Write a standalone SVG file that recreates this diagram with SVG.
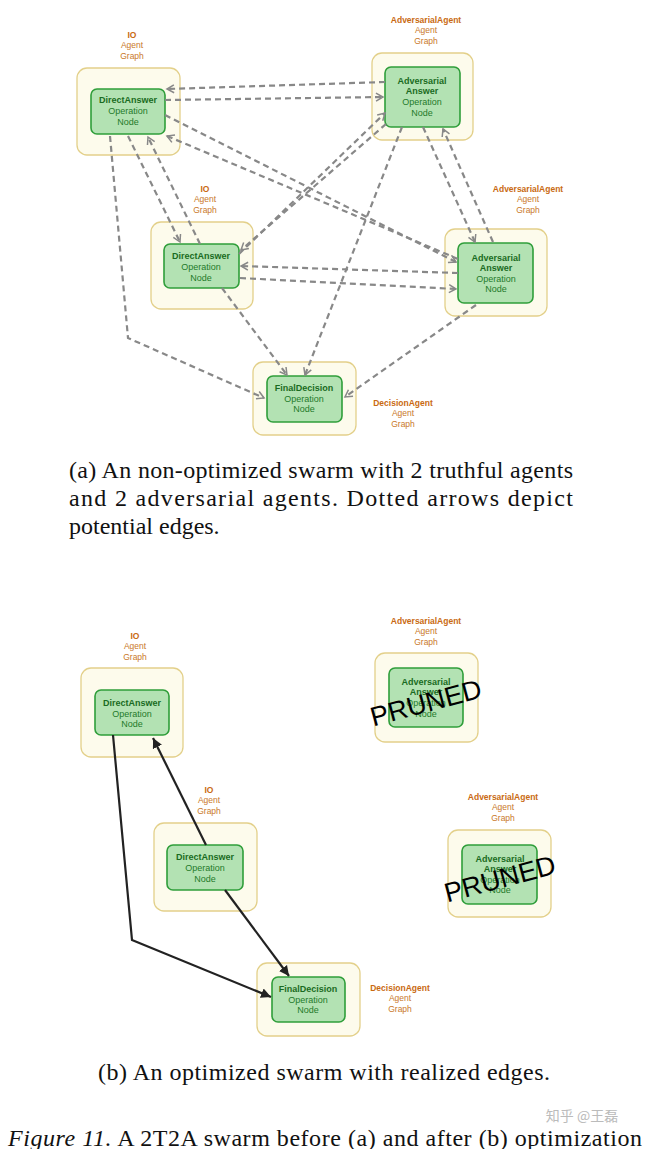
<svg xmlns="http://www.w3.org/2000/svg" width="649" height="1149" viewBox="0 0 649 1149">
<style>
.outer{fill:#fdfbec;stroke:#e3d08a;stroke-width:1.3}
.inner{fill:#b3e2b3;stroke:#2f9e3a;stroke-width:1.6}
.nt{font-family:"Liberation Sans",Arial,sans-serif;font-size:9px;text-anchor:middle;fill:#1f7a2a}
.nb{font-weight:bold;fill:#1a6b22}
.lt{font-family:"Liberation Sans",Arial,sans-serif;font-size:8.5px;text-anchor:middle;fill:#c9782a}
.lb{font-weight:bold;fill:#c96a12}
.d{fill:none;stroke:#888;stroke-width:2.2;stroke-dasharray:6 4;marker-end:url(#ad)}
.s{fill:none;stroke:#222;stroke-width:2.2;marker-end:url(#as)}
.cap{font-family:"Liberation Serif","Times New Roman",serif;font-size:24px;fill:#111}
.pr{font-family:"Liberation Sans",Arial,sans-serif;font-size:27px;fill:#000}
</style>
<defs>
<marker id="ad" markerWidth="10" markerHeight="10" refX="8" refY="5" orient="auto" markerUnits="userSpaceOnUse"><path d="M1,1 L8,5 L1,9" fill="none" stroke="#888" stroke-width="1.5"/></marker>
<marker id="as" markerWidth="12" markerHeight="12" refX="10" refY="6" orient="auto" markerUnits="userSpaceOnUse"><path d="M0,1 L10,6 L0,11 Z" fill="#222"/></marker>
</defs>
<rect width="649" height="1149" fill="#fff"/>

<g id="a-io1">
<rect class="outer" x="77" y="68" width="103" height="87" rx="10"/>
<rect class="inner" x="91" y="89" width="74" height="45" rx="6"/>
<text class="nt nb" x="128" y="103">DirectAnswer</text><text class="nt" x="128" y="114">Operation</text><text class="nt" x="128" y="125">Node</text>
<text class="lt lb" x="132" y="38">IO</text><text class="lt" x="132" y="48">Agent</text><text class="lt" x="132" y="59">Graph</text>
</g>
<g id="a-adv1">
<rect class="outer" x="372" y="53" width="101" height="87" rx="10"/>
<rect class="inner" x="385" y="67" width="75" height="60" rx="6"/>
<text class="nt nb" x="422" y="84">Adversarial</text><text class="nt nb" x="422" y="94">Answer</text><text class="nt" x="422" y="105">Operation</text><text class="nt" x="422" y="116">Node</text>
<text class="lt lb" x="426" y="23">AdversarialAgent</text><text class="lt" x="426" y="33">Agent</text><text class="lt" x="426" y="44">Graph</text>
</g>
<g id="a-io2">
<rect class="outer" x="151" y="222" width="102" height="87" rx="10"/>
<rect class="inner" x="164" y="244" width="75" height="44" rx="6"/>
<text class="nt nb" x="201" y="259">DirectAnswer</text><text class="nt" x="201" y="270">Operation</text><text class="nt" x="201" y="281">Node</text>
<text class="lt lb" x="205" y="192">IO</text><text class="lt" x="205" y="202">Agent</text><text class="lt" x="205" y="213">Graph</text>
</g>
<g id="a-adv2">
<rect class="outer" x="445" y="229" width="102" height="87" rx="10"/>
<rect class="inner" x="458" y="243" width="75" height="60" rx="6"/>
<text class="nt nb" x="496" y="261">Adversarial</text><text class="nt nb" x="496" y="271">Answer</text><text class="nt" x="496" y="282">Operation</text><text class="nt" x="496" y="292">Node</text>
<text class="lt lb" x="528" y="192">AdversarialAgent</text><text class="lt" x="528" y="202">Agent</text><text class="lt" x="528" y="213">Graph</text>
</g>
<g id="a-final">
<rect class="outer" x="253" y="362" width="103" height="73" rx="10"/>
<rect class="inner" x="267" y="376" width="75" height="46" rx="6"/>
<text class="nt nb" x="304" y="391">FinalDecision</text><text class="nt" x="304" y="402">Operation</text><text class="nt" x="304" y="412">Node</text>
<text class="lt lb" x="403" y="406">DecisionAgent</text><text class="lt" x="403" y="416">Agent</text><text class="lt" x="403" y="427">Graph</text>
</g>

<g id="connectors-a">
<path class="d" d="M385,82 L167,89"/>
<path class="d" d="M165,100 L383,97"/>
<path class="d" d="M165,115 L456,262"/>
<path class="d" d="M458,259 L167,136"/>
<path class="d" d="M110,136 L128,338 L264,398"/>
<path class="d" d="M128,136 L180,242"/>
<path class="d" d="M200,244 L148,137"/>
<path class="d" d="M239,254 L385,113"/>
<path class="d" d="M386,124 L241,250"/>
<path class="d" d="M458,273 L241,266"/>
<path class="d" d="M240,278 L456,289"/>
<path class="d" d="M423,127 L475,242"/>
<path class="d" d="M493,242 L443,129"/>
<path class="d" d="M402,127 L305,375"/>
<path class="d" d="M222,288 L287,375"/>
<path class="d" d="M476,305 L345,397"/>
</g>

<text class="cap" x="69" y="478" textLength="504" lengthAdjust="spacing">(a) An non-optimized swarm with 2 truthful agents</text>
<text class="cap" x="69" y="506" textLength="504" lengthAdjust="spacing">and 2 adversarial agents.  Dotted arrows depict</text>
<text class="cap" x="69" y="534">potential edges.</text>

<g id="b-io1">
<rect class="outer" x="81" y="668" width="102" height="89" rx="10"/>
<rect class="inner" x="95" y="690" width="74" height="45" rx="6"/>
<text class="nt nb" x="132" y="706">DirectAnswer</text><text class="nt" x="132" y="717">Operation</text><text class="nt" x="132" y="727">Node</text>
<text class="lt lb" x="135" y="639">IO</text><text class="lt" x="135" y="649">Agent</text><text class="lt" x="135" y="660">Graph</text>
</g>
<g id="b-adv1">
<rect class="outer" x="375" y="653" width="103" height="89" rx="10"/>
<rect class="inner" x="389" y="668" width="74" height="59" rx="6"/>
<text class="nt nb" x="426" y="685">Adversarial</text><text class="nt nb" x="426" y="695">Answer</text><text class="nt" x="426" y="706">Operation</text><text class="nt" x="426" y="717">Node</text>
<text class="lt lb" x="426" y="624">AdversarialAgent</text><text class="lt" x="426" y="634">Agent</text><text class="lt" x="426" y="645">Graph</text>
<text class="pr" x="426" y="712" text-anchor="middle" transform="rotate(-15 426 703)">PRUNED</text>
</g>
<g id="b-io2">
<rect class="outer" x="154" y="823" width="103" height="88" rx="10"/>
<rect class="inner" x="167" y="845" width="76" height="45" rx="6"/>
<text class="nt nb" x="205" y="860">DirectAnswer</text><text class="nt" x="205" y="871">Operation</text><text class="nt" x="205" y="882">Node</text>
<text class="lt lb" x="209" y="793">IO</text><text class="lt" x="209" y="803">Agent</text><text class="lt" x="209" y="814">Graph</text>
</g>
<g id="b-adv2">
<rect class="outer" x="448" y="830" width="103" height="87" rx="10"/>
<rect class="inner" x="462" y="845" width="75" height="59" rx="6"/>
<text class="nt nb" x="500" y="862">Adversarial</text><text class="nt nb" x="500" y="872">Answer</text><text class="nt" x="500" y="883">Operation</text><text class="nt" x="500" y="893">Node</text>
<text class="lt lb" x="503" y="800">AdversarialAgent</text><text class="lt" x="503" y="810">Agent</text><text class="lt" x="503" y="821">Graph</text>
<text class="pr" x="500" y="888" text-anchor="middle" transform="rotate(-15 500 879)">PRUNED</text>
</g>
<g id="b-final">
<rect class="outer" x="257" y="963" width="103" height="73" rx="10"/>
<rect class="inner" x="272" y="977" width="73" height="45" rx="6"/>
<text class="nt nb" x="308" y="992">FinalDecision</text><text class="nt" x="308" y="1003">Operation</text><text class="nt" x="308" y="1013">Node</text>
<text class="lt lb" x="400" y="991">DecisionAgent</text><text class="lt" x="400" y="1001">Agent</text><text class="lt" x="400" y="1012">Graph</text>
</g>

<g id="connectors-b">
<path class="s" d="M113,735 L132,940 L271,997"/>
<path class="s" d="M206,845 L153,738"/>
<path class="s" d="M225,890 L289,976"/>
</g>

<text class="cap" x="324" y="1080" text-anchor="middle" textLength="452" lengthAdjust="spacing">(b) An optimized swarm with realized edges.</text>
<text class="cap" x="8" y="1146" textLength="634" lengthAdjust="spacing"><tspan font-style="italic">Figure 11.</tspan> A 2T2A swarm before (a) and after (b) optimization</text>
<text x="582" y="1121" text-anchor="middle" font-family="Noto Sans CJK SC,sans-serif" font-size="14" fill="#bbb">知乎 @王磊</text>
</svg>
